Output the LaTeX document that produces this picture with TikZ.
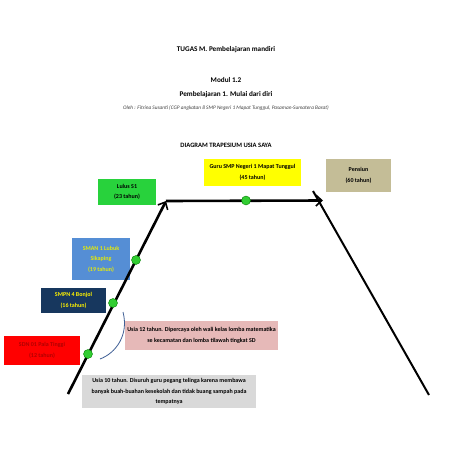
\documentclass[tikz,border=0pt]{standalone}
\usepackage{fontspec}
\setmainfont{Carlito}
\usetikzlibrary{arrows.meta}

\definecolor{guruyellow}{HTML}{FFFF00}
\definecolor{pensiunkhaki}{HTML}{C4BD97}
\definecolor{lulusgreen}{RGB}{40,210,60}
\definecolor{smanblue}{HTML}{558ED5}
\definecolor{smpnnavy}{HTML}{17375E}
\definecolor{sdnred}{HTML}{FF0000}
\definecolor{sdntext}{HTML}{B00000}
\definecolor{notepink}{HTML}{E6B9B8}
\definecolor{notegrey}{HTML}{D9D9D9}
\definecolor{dotgreen}{RGB}{50,205,50}
\definecolor{arcblue}{HTML}{3F5F95}

\begin{document}
\begin{tikzpicture}
[x=1pt,y=-1pt,%
  every node/.style={inner sep=1pt,align=center},%
  box/.style={minimum width=#1,font=\bfseries\fontsize{6}{10.5}\selectfont},%
  heading/.style={font=\bfseries\fontsize{7.2}{9}\selectfont},%
  dot/.style={shape=circle,fill=dotgreen,draw=green!50!black,thin,minimum size=9pt,inner sep=0pt},%
  pathline/.style={line width=2.6pt,-{Straight Barb[length=6pt,width=11pt,line width=1.6pt]}}]
\useasboundingbox[fill=white] (0,0) rectangle (453,453);

% titles
\node[heading] (tugas) at (226,50) {TUGAS M. Pembelajaran mandiri};
\node[heading] (modul) at (226,80) {Modul 1.2};
\node[heading] (judul) at (226,95) {Pembelajaran 1. Mulai dari diri};
\node[font=\itshape\fontsize{5.3}{7}\selectfont,text=black!75] (oleh) at (226,108)
  {Oleh : Fitrina Susanti (CGP angkatan 8 SMP Negeri 1 Mapat Tunggul, Pasaman-Sumatera Barat)};
\node[heading,font=\bfseries\fontsize{6.6}{8}\selectfont] (diagram) at (226,145) {DIAGRAM TRAPESIUM USIA SAYA};

% boxes
\node[box=97pt,minimum height=27pt,fill=guruyellow] (guru) at (252.5,172.5)
  {Guru SMP Negeri 1 Mapat Tunggul\\(45 tahun)};
\node[box=65pt,minimum height=33pt,fill=pensiunkhaki] (pensiun) at (358.5,175.5)
  {Pensiun\\(60 tahun)};
\node[box=58pt,minimum height=26pt,fill=lulusgreen] (lulus) at (127,192)
  {Lulus S1\\(23 tahun)};
\node[box=58pt,minimum height=42pt,fill=smanblue,text=yellow!90!green] (sman) at (101,259)
  {SMAN 1 Lubuk\\Sikaping\\(19 tahun)};
\node[box=65pt,minimum height=25pt,fill=smpnnavy,text=yellow] (smpn) at (73.5,300.5)
  {SMPN 4 Bonjol\\(16 tahun)};
\node[box=76pt,minimum height=29pt,fill=sdnred,text=sdntext] (sdn) at (42,350.5)
  {SDN 01 Pala Tinggi\\(12 tahun)};
\node[box=153pt,minimum height=29pt,fill=notepink] (usia12) at (201.5,335.5)
  {Usia 12 tahun. Dipercaya oleh wali kelas lomba matematika\\se kecamatan dan lomba tilawah tingkat SD};
\node[box=174pt,minimum height=33pt,fill=notegrey] (usia10) at (169,391.5)
  {Usia 10 tahun. Disuruh guru pegang telinga karena membawa\\banyak buah-buahan kesekolah dan tidak buang sampah pada\\tempatnya};

% trapezium
\coordinate (start) at (68,394);
\coordinate (naik) at (166,201);
\coordinate (puncak) at (323,200.5);
\coordinate (turun) at (313,191);
\coordinate (akhir) at (429,395);
\draw[pathline] (start) -- (naik);
\draw[pathline] (naik) -- (puncak);
\draw[line width=2pt] (turun) -- (akhir);

% arc
\coordinate (arc1) at (123,312);
\coordinate (arc2) at (100,359);
\draw[arcblue,thick] (arc1) .. controls (129,335) and (116,353) .. (arc2);

% dots
\node[dot] (dsdn) at (88,354) {};
\node[dot] (dsmpn) at (113,303) {};
\node[dot] (dsman) at (136,260) {};
\node[dot] (dguru) at (246,200.5) {};
\end{tikzpicture}
\end{document}
